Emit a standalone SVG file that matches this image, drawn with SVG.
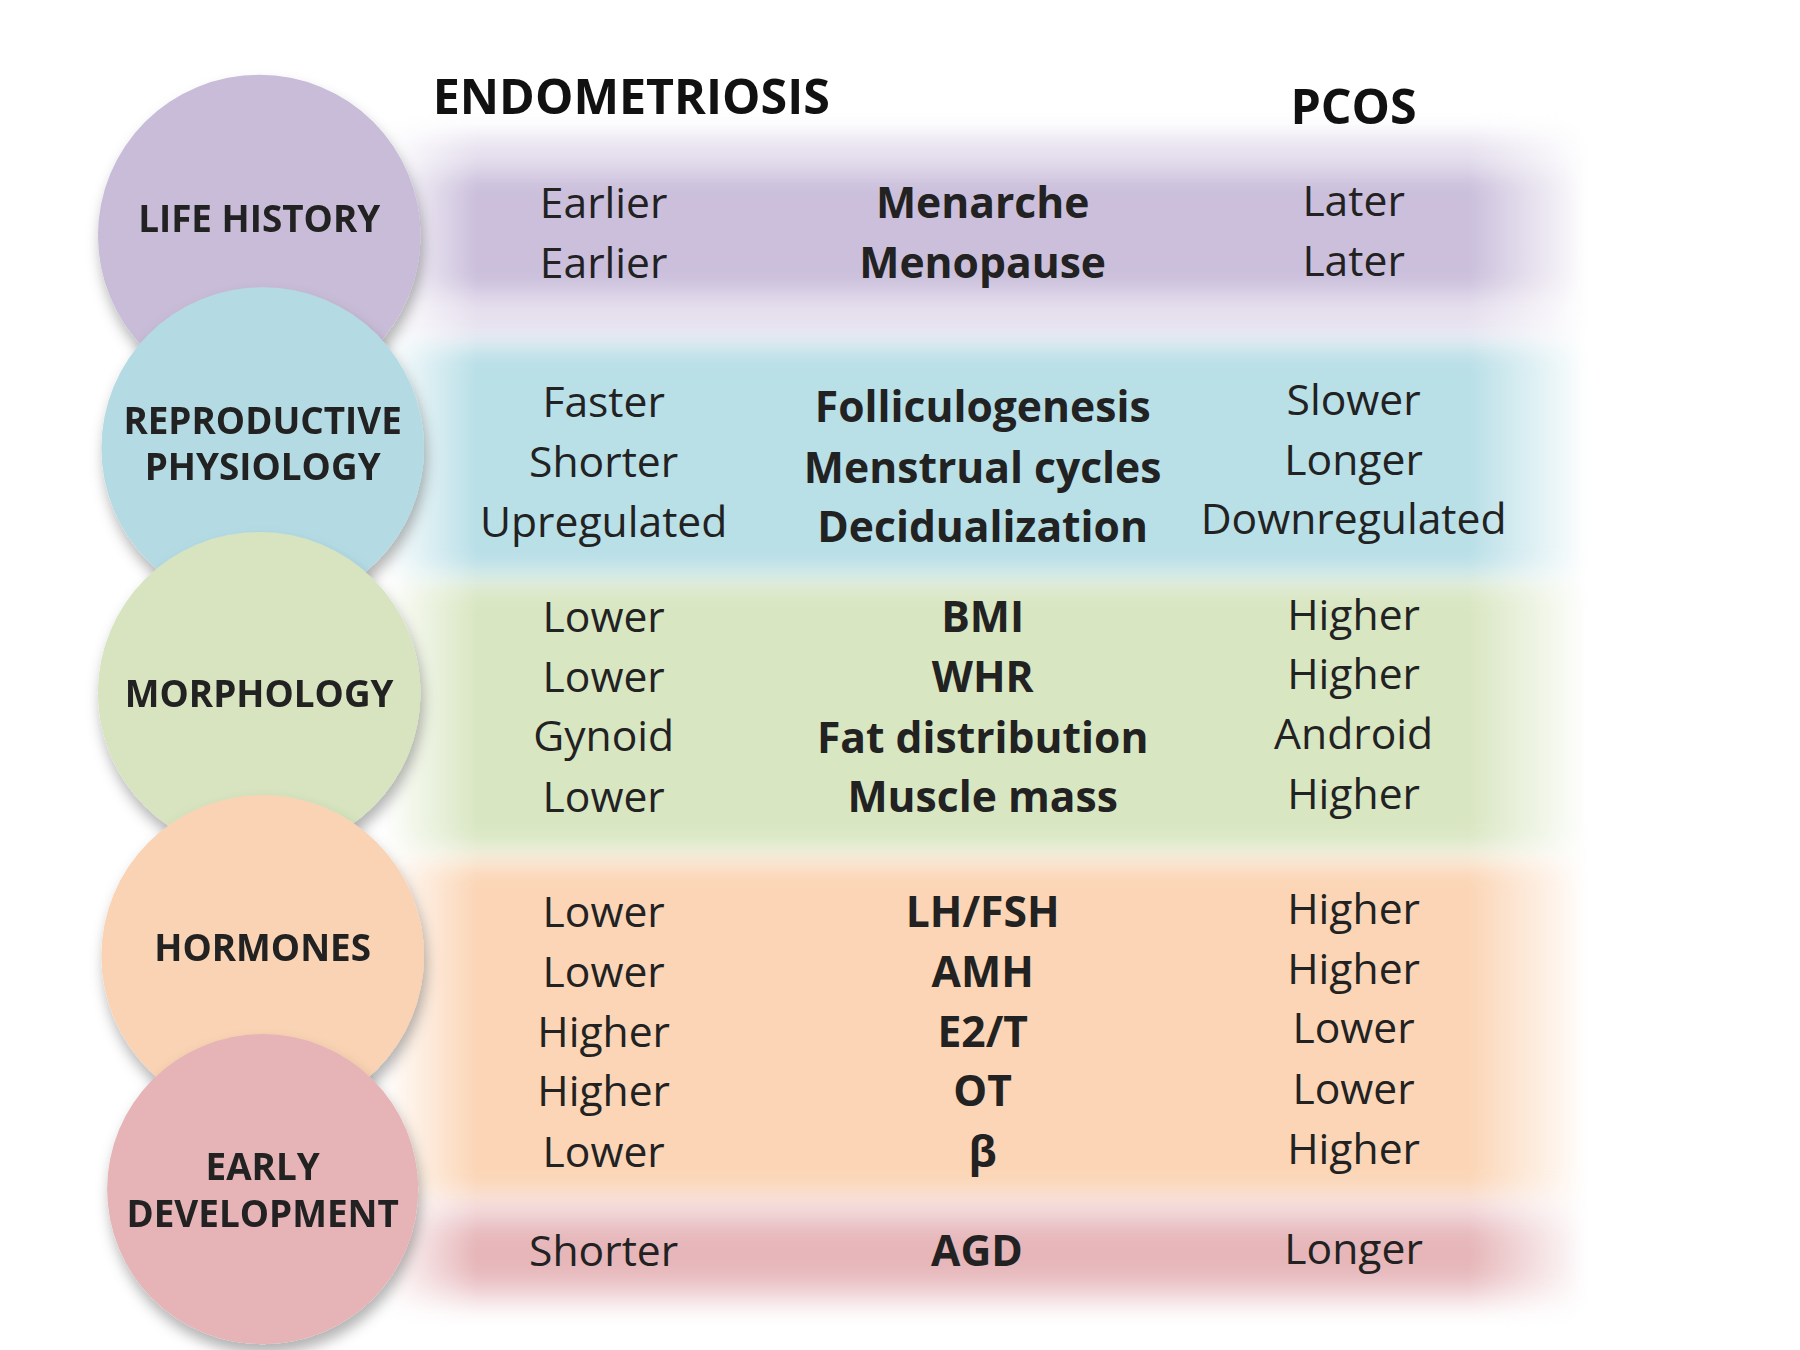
<svg xmlns="http://www.w3.org/2000/svg" width="1800" height="1350" viewBox="0 0 1800 1350">
<defs>
<style>
.t{font-family:"Open Sans","Liberation Sans",sans-serif;font-size:37px;fill:#222;text-anchor:middle}
.b{font-weight:bold}
.h{font-family:"Open Sans","Liberation Sans",sans-serif;font-weight:bold;font-size:32px;fill:#222;text-anchor:middle}
.hd{font-family:"Open Sans","Liberation Sans",sans-serif;font-weight:bold;font-size:42px;fill:#111;text-anchor:middle}
</style>
<filter id="blur" x="-10%" y="-30%" width="120%" height="160%"><feGaussianBlur stdDeviation="10"/></filter>
<filter id="sh" x="-20%" y="-20%" width="140%" height="150%"><feDropShadow dx="2" dy="8" stdDeviation="6" flood-color="#000" flood-opacity="0.3"/></filter>
<linearGradient id="fade" x1="0" x2="1" y1="0" y2="0">
<stop offset="0" stop-color="#fff" stop-opacity="0"/><stop offset="0.08" stop-color="#fff" stop-opacity="1"/><stop offset="0.9" stop-color="#fff" stop-opacity="1"/><stop offset="1" stop-color="#fff" stop-opacity="0"/>
</linearGradient>
<mask id="m"><rect x="330" y="0" width="1050" height="1350" fill="url(#fade)"/></mask>
</defs>
<rect width="1800" height="1350" fill="#fff"/>
<g transform="scale(1.152,1.149)">
<g id="bands" mask="url(#m)" filter="url(#blur)">
<rect x="330" y="118" width="1050" height="175" fill="#e6e0ee"/>
<rect x="330" y="150" width="1050" height="105" fill="#cbbfdc"/>
<rect x="330" y="300" width="1050" height="200" fill="#b9dfe7"/>
<rect x="330" y="507" width="1050" height="233" fill="#d9e6c2"/>
<rect x="330" y="750" width="1050" height="290" fill="#fbd5b6"/>
<rect x="330" y="1045" width="1050" height="90" fill="#f1d6d9"/>
<rect x="330" y="1065" width="1050" height="52" fill="#e6b6b9"/>
</g>
<g id="n-life" filter="url(#sh)"><circle cx="225" cy="205" r="140" fill="#c8bcd8"/><text class="h" x="225" y="202">LIFE HISTORY</text></g>
<g id="n-repro" filter="url(#sh)"><circle cx="228" cy="390" r="140" fill="#b4dbe4"/><text class="h" x="228" y="378" font-size="27">REPRODUCTIVE</text><text class="h" x="228" y="418" font-size="27">PHYSIOLOGY</text></g>
<g id="n-morph" filter="url(#sh)"><circle cx="225" cy="603" r="140" fill="#d7e4bf"/><text class="h" x="225" y="615">MORPHOLOGY</text></g>
<g id="n-horm" filter="url(#sh)"><circle cx="228" cy="832" r="140" fill="#f9d3b3"/><text class="h" x="228" y="836">HORMONES</text></g>
<g id="n-early" filter="url(#sh)"><circle cx="228" cy="1035" r="135" fill="#e6b3b7"/><text class="h" x="228" y="1027" font-size="28">EARLY</text><text class="h" x="228" y="1068" font-size="28">DEVELOPMENT</text></g>
<g id="connectors"/>
<text class="hd" x="548" y="99">ENDOMETRIOSIS</text>
<text class="hd" x="1175" y="108">PCOS</text>
<g id="col-left">
<text class="t" x="524" y="190">Earlier</text><text class="t" x="524" y="242">Earlier</text>
<text class="t" x="524" y="363">Faster</text><text class="t" x="524" y="415">Shorter</text><text class="t" x="524" y="467">Upregulated</text>
<text class="t" x="524" y="550">Lower</text><text class="t" x="524" y="602">Lower</text><text class="t" x="524" y="654">Gynoid</text><text class="t" x="524" y="707">Lower</text>
<text class="t" x="524" y="807">Lower</text><text class="t" x="524" y="859">Lower</text><text class="t" x="524" y="911">Higher</text><text class="t" x="524" y="963">Higher</text><text class="t" x="524" y="1016">Lower</text>
<text class="t" x="524" y="1102">Shorter</text>
</g>
<g id="col-mid">
<text class="t b" x="853" y="190">Menarche</text><text class="t b" x="853" y="242">Menopause</text>
<text class="t b" x="853" y="367">Folliculogenesis</text><text class="t b" x="853" y="420">Menstrual cycles</text><text class="t b" x="853" y="472">Decidualization</text>
<text class="t b" x="853" y="550">BMI</text><text class="t b" x="853" y="602">WHR</text><text class="t b" x="853" y="655">Fat distribution</text><text class="t b" x="853" y="707">Muscle mass</text>
<text class="t b" x="853" y="807">LH/FSH</text><text class="t b" x="853" y="859">AMH</text><text class="t b" x="853" y="911">E2/T</text><text class="t b" x="853" y="963">OT</text><text class="t b" x="853" y="1016">β</text>
<text class="t b" x="848" y="1102">AGD</text>
</g>
<g id="col-right">
<text class="t" x="1175" y="188">Later</text><text class="t" x="1175" y="240">Later</text>
<text class="t" x="1175" y="361">Slower</text><text class="t" x="1175" y="413">Longer</text><text class="t" x="1175" y="465">Downregulated</text>
<text class="t" x="1175" y="548">Higher</text><text class="t" x="1175" y="600">Higher</text><text class="t" x="1175" y="652">Android</text><text class="t" x="1175" y="704">Higher</text>
<text class="t" x="1175" y="804">Higher</text><text class="t" x="1175" y="856">Higher</text><text class="t" x="1175" y="908">Lower</text><text class="t" x="1175" y="961">Lower</text><text class="t" x="1175" y="1013">Higher</text>
<text class="t" x="1175" y="1100">Longer</text>
</g>
</g>
</svg>
